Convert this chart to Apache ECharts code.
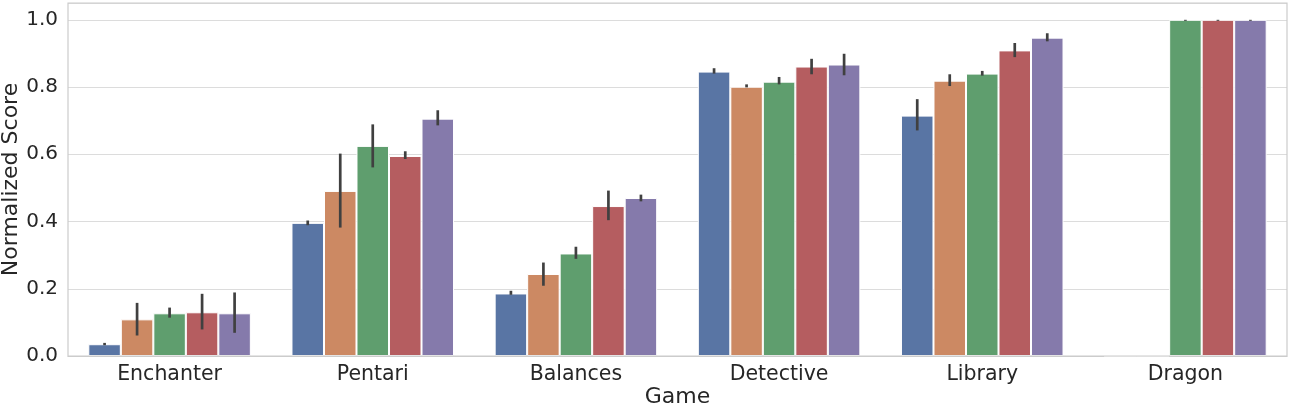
<!DOCTYPE html>
<html>
<head>
<meta charset="utf-8">
<script src="https://cdn.jsdelivr.net/npm/echarts@6/dist/echarts.min.js"></script>
<style>
html,body{margin:0;padding:0;background:#fff;}
#chart{width:1292px;height:408px;}
</style>
</head>
<body>
<div id="chart"></div>
<script>
const categories = ['Enchanter', 'Pentari', 'Balances', 'Detective', 'Library', 'Dragon'];
const yTicks = [0.0, 0.2, 0.4, 0.6, 0.8, 1.0];

const s1 = [0.035, 0.396, 0.186, 0.846, 0.715, 0.0];
const s2 = [0.109, 0.491, 0.244, 0.801, 0.819, 0.0];
const s3 = [0.127, 0.625, 0.305, 0.816, 0.840, 1.0];
const s4 = [0.130, 0.595, 0.446, 0.861, 0.909, 1.0];
const s5 = [0.127, 0.706, 0.470, 0.867, 0.947, 1.0];

const s1Low  = [0.032, 0.389, 0.182, 0.840, 0.671, 0.0];
const s1High = [0.039, 0.403, 0.194, 0.856, 0.764, 0.0];
const s2Low  = [0.061, 0.382, 0.209, 0.799, 0.803, 0.0];
const s2High = [0.158, 0.602, 0.278, 0.808, 0.838, 0.0];
const s3Low  = [0.114, 0.561, 0.289, 0.808, 0.834, 0.997];
const s3High = [0.144, 0.689, 0.325, 0.830, 0.848, 1.0];
const s4Low  = [0.079, 0.586, 0.404, 0.838, 0.889, 0.997];
const s4High = [0.185, 0.609, 0.492, 0.884, 0.931, 1.0];
const s5Low  = [0.069, 0.686, 0.460, 0.835, 0.936, 0.997];
const s5High = [0.189, 0.731, 0.480, 0.899, 0.960, 1.0];

const colors = ['#5975a4', '#cc8963', '#5f9e6e', '#b55d60', '#857aab'];
const values = [s1, s2, s3, s4, s5];
const lows = [s1Low, s2Low, s3Low, s4Low, s5Low];
const highs = [s1High, s2High, s3High, s4High, s5High];
const nSeries = values.length;

const chart = echarts.init(document.getElementById('chart'));
const series = [];
values.forEach((v, i) => {
  series.push({
    type: 'bar',
    data: v,
    barGap: '0%',
    barCategoryGap: '20%',
    itemStyle: { color: colors[i], borderColor: '#ffffff', borderWidth: 1 },
    silent: true,
    z: 2
  });
});
values.forEach((v, i) => {
  series.push({
    type: 'custom',
    z: 5,
    silent: true,
    data: categories.map((c, k) => [k, lows[i][k], highs[i][k]]),
    renderItem: function (params, api) {
      const k = api.value(0);
      const lo = api.coord([k, api.value(1)]);
      const hi = api.coord([k, api.value(2)]);
      const band = api.size([1, 0])[0];
      const bw = band * 0.8 / nSeries;
      const x = lo[0] + (i - (nSeries - 1) / 2) * bw;
      return {
        type: 'line',
        shape: { x1: x, y1: lo[1], x2: x, y2: hi[1] },
        style: { stroke: '#404040', lineWidth: 2.7 }
      };
    }
  });
});

chart.setOption({
  animation: false,
  backgroundColor: '#ffffff',
  grid: { left: 68, right: 5, top: 3, bottom: 52, containLabel: false, outerBoundsMode: 'none' },
  xAxis: {
    type: 'category',
    data: categories,
    name: 'Game',
    nameLocation: 'middle',
    nameGap: 30,
    nameMoveOverlap: false,
    nameTextStyle: { fontFamily: 'DejaVu Sans', fontSize: 22, color: '#262626' },
    axisLine: { show: true, lineStyle: { color: '#cccccc', width: 1.2 } },
    axisTick: { show: false },
    axisLabel: { fontFamily: 'DejaVu Sans', fontSize: 20.5, color: '#262626', margin: 8 },
    splitLine: { show: false }
  },
  yAxis: {
    type: 'value',
    min: 0,
    max: 1.05,
    interval: 0.2,
    name: 'Normalized Score',
    nameLocation: 'middle',
    nameGap: 46,
    nameMoveOverlap: false,
    nameTextStyle: { fontFamily: 'DejaVu Sans', fontSize: 22, color: '#262626' },
    axisLine: { show: false },
    axisTick: { show: false },
    axisLabel: {
      fontFamily: 'DejaVu Sans', fontSize: 20, color: '#262626', margin: 10,
      formatter: function (v) {
        const t = yTicks.find(x => Math.abs(x - v) < 1e-6);
        return t === undefined ? '' : t.toFixed(1);
      }
    },
    splitLine: { show: true, lineStyle: { color: '#dcdcdc', width: 1.2 } }
  },
  graphic: [{
    type: 'rect',
    shape: { x: 68, y: 3, width: 1219, height: 353 },
    style: { fill: 'none', stroke: '#cccccc', lineWidth: 1.2 },
    silent: true,
    z: 10
  }],
  series: series
});
</script>
</body>
</html>
